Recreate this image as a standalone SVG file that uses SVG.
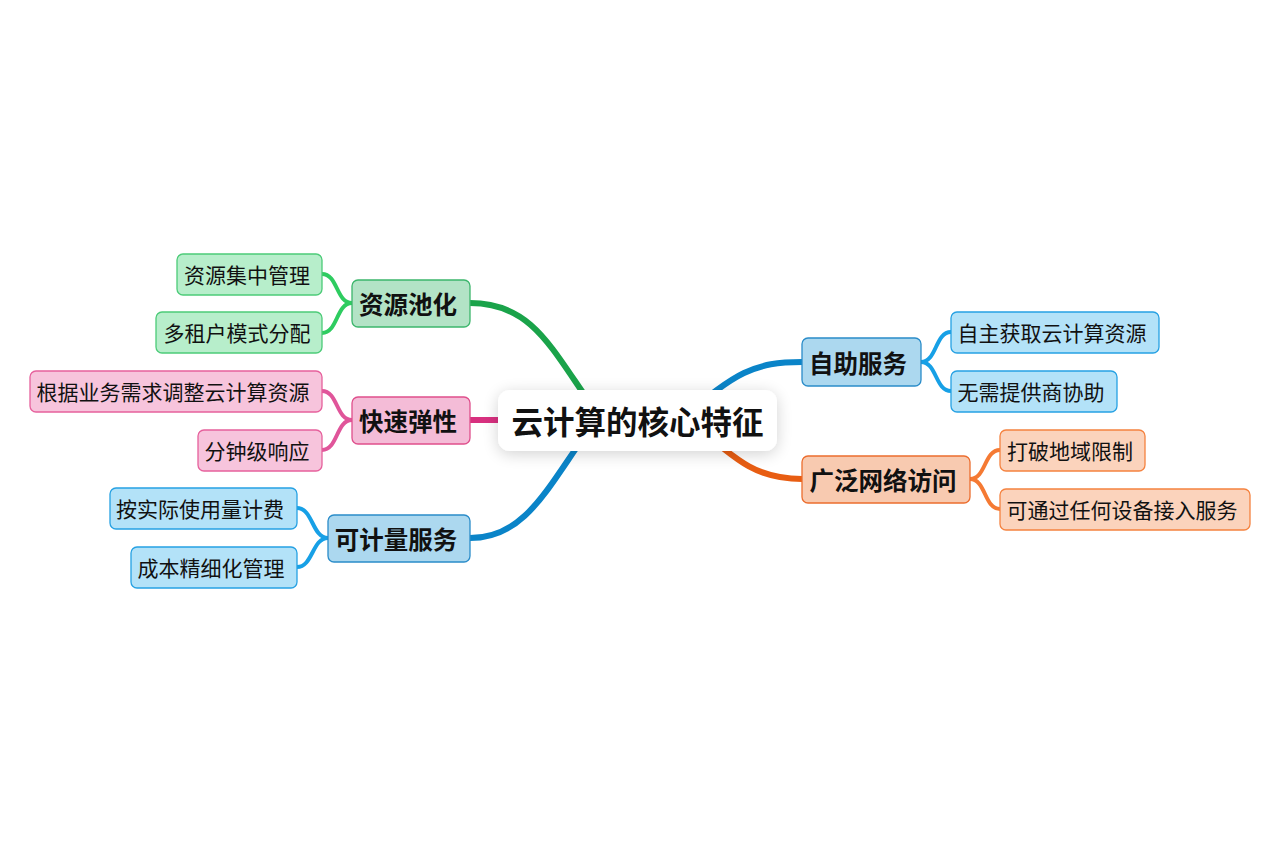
<svg xmlns="http://www.w3.org/2000/svg" width="1280" height="842" viewBox="0 0 1280 842">
<defs>
<filter id="sh" x="-30%" y="-60%" width="160%" height="220%">
<feGaussianBlur in="SourceAlpha" stdDeviation="8"/>
<feOffset dx="0" dy="3" result="b"/>
<feComponentTransfer><feFuncA type="linear" slope="0.18"/></feComponentTransfer>
<feMerge><feMergeNode/><feMergeNode in="SourceGraphic"/></feMerge>
</filter>
<style>
text{font-family:"Noto Sans CJK SC","Noto Sans",sans-serif;fill:#111;dominant-baseline:central;text-anchor:middle}
.main{font-size:24.5px;font-weight:bold}
.sub{font-size:21px}
.ctr{font-size:31.5px;font-weight:bold}
.c{fill:none;stroke-linecap:round}
.m{stroke-width:6}
.s{stroke-width:4}
.gM{fill:#b3e3c6;stroke:#3cb66c;stroke-width:1.3}
.gS{fill:#b7eecb;stroke:#4ccb78;stroke-width:1.3}
.pM{fill:#f4bcd7;stroke:#df4f8c;stroke-width:1.3}
.pS{fill:#f7c4dc;stroke:#e6609c;stroke-width:1.3}
.bM{fill:#acd8ef;stroke:#2a8cc9;stroke-width:1.3}
.bS{fill:#b3e2f8;stroke:#26a1e3;stroke-width:1.3}
.oM{fill:#f8cab0;stroke:#ec6d2e;stroke-width:1.3}
.oS{fill:#fbd3bc;stroke:#f5823f;stroke-width:1.3}
</style>
</defs>
<rect width="1280" height="842" fill="#ffffff"/>
<g id="connectors">
<path class="c m" stroke="#1aa34a" d="M470,303 C540,303 555,360 610,430"/>
<path class="c m" stroke="#d8307f" d="M470,420 L600,420"/>
<path class="c m" stroke="#0a84c8" d="M470,538 C530,538 550,480 600,415"/>
<path class="c m" stroke="#0a84c8" d="M802,362 C755,362 735,372 680,420"/>
<path class="c m" stroke="#e85d12" d="M802,479 C760,479 740,465 690,420"/>
<path class="c s" stroke="#2ecc60" d="M352,303 C336,303 338,274 322,274"/>
<path class="c s" stroke="#2ecc60" d="M352,303 C336,303 338,333 322,333"/>
<path class="c s" stroke="#e0559a" d="M352,420 C336,420 338,391 322,391"/>
<path class="c s" stroke="#e0559a" d="M352,420 C336,420 338,450 322,450"/>
<path class="c s" stroke="#17a0e6" d="M328,538 C312,538 313,508 297,508"/>
<path class="c s" stroke="#17a0e6" d="M328,538 C312,538 313,567 297,567"/>
<path class="c s" stroke="#17a0e6" d="M921,362 C937,362 935,332 951,332"/>
<path class="c s" stroke="#17a0e6" d="M921,362 C937,362 935,391 951,391"/>
<path class="c s" stroke="#f57a33" d="M970,479 C986,479 984,450 1000,450"/>
<path class="c s" stroke="#f57a33" d="M970,479 C986,479 984,509 1000,509"/>
</g>
<g id="center">
<rect x="498" y="390" width="279" height="61" rx="12" fill="#ffffff" filter="url(#sh)"/>
<text class="ctr" x="637.5" y="420">云计算的核心特征</text>
</g>
<g id="n1">
<rect class="gM" x="352" y="280" width="118" height="47" rx="6"/>
<text class="main" x="408" y="303">资源池化</text>
</g>
<g id="n1a">
<rect class="gS" x="177" y="254" width="145" height="41" rx="6"/>
<text class="sub" x="247" y="274">资源集中管理</text>
</g>
<g id="n1b">
<rect class="gS" x="156" y="312" width="166" height="41" rx="6"/>
<text class="sub" x="237" y="332">多租户模式分配</text>
</g>
<g id="n2">
<rect class="pM" x="352" y="397" width="118" height="47" rx="6"/>
<text class="main" x="408" y="420">快速弹性</text>
</g>
<g id="n2a">
<rect class="pS" x="30" y="371" width="292" height="41" rx="6"/>
<text class="sub" x="173" y="391">根据业务需求调整云计算资源</text>
</g>
<g id="n2b">
<rect class="pS" x="198" y="430" width="124" height="41" rx="6"/>
<text class="sub" x="257" y="450">分钟级响应</text>
</g>
<g id="n3">
<rect class="bM" x="328" y="515" width="142" height="47" rx="6"/>
<text class="main" x="396" y="538">可计量服务</text>
</g>
<g id="n3a">
<rect class="bS" x="110" y="488" width="187" height="41" rx="6"/>
<text class="sub" x="200" y="508">按实际使用量计费</text>
</g>
<g id="n3b">
<rect class="bS" x="131" y="547" width="166" height="41" rx="6"/>
<text class="sub" x="211" y="567">成本精细化管理</text>
</g>
<g id="n4">
<rect class="bM" x="802" y="338" width="119" height="48" rx="6"/>
<text class="main" x="858" y="362">自助服务</text>
</g>
<g id="n4a">
<rect class="bS" x="951" y="312" width="208" height="41" rx="6"/>
<text class="sub" x="1052" y="332">自主获取云计算资源</text>
</g>
<g id="n4b">
<rect class="bS" x="951" y="371" width="166" height="41" rx="6"/>
<text class="sub" x="1031" y="391">无需提供商协助</text>
</g>
<g id="n5">
<rect class="oM" x="802" y="456" width="168" height="47" rx="6"/>
<text class="main" x="883" y="479">广泛网络访问</text>
</g>
<g id="n5a">
<rect class="oS" x="1000" y="430" width="145" height="41" rx="6"/>
<text class="sub" x="1070" y="450">打破地域限制</text>
</g>
<g id="n5b">
<rect class="oS" x="1000" y="489" width="250" height="41" rx="6"/>
<text class="sub" x="1122" y="509">可通过任何设备接入服务</text>
</g>
</svg>
